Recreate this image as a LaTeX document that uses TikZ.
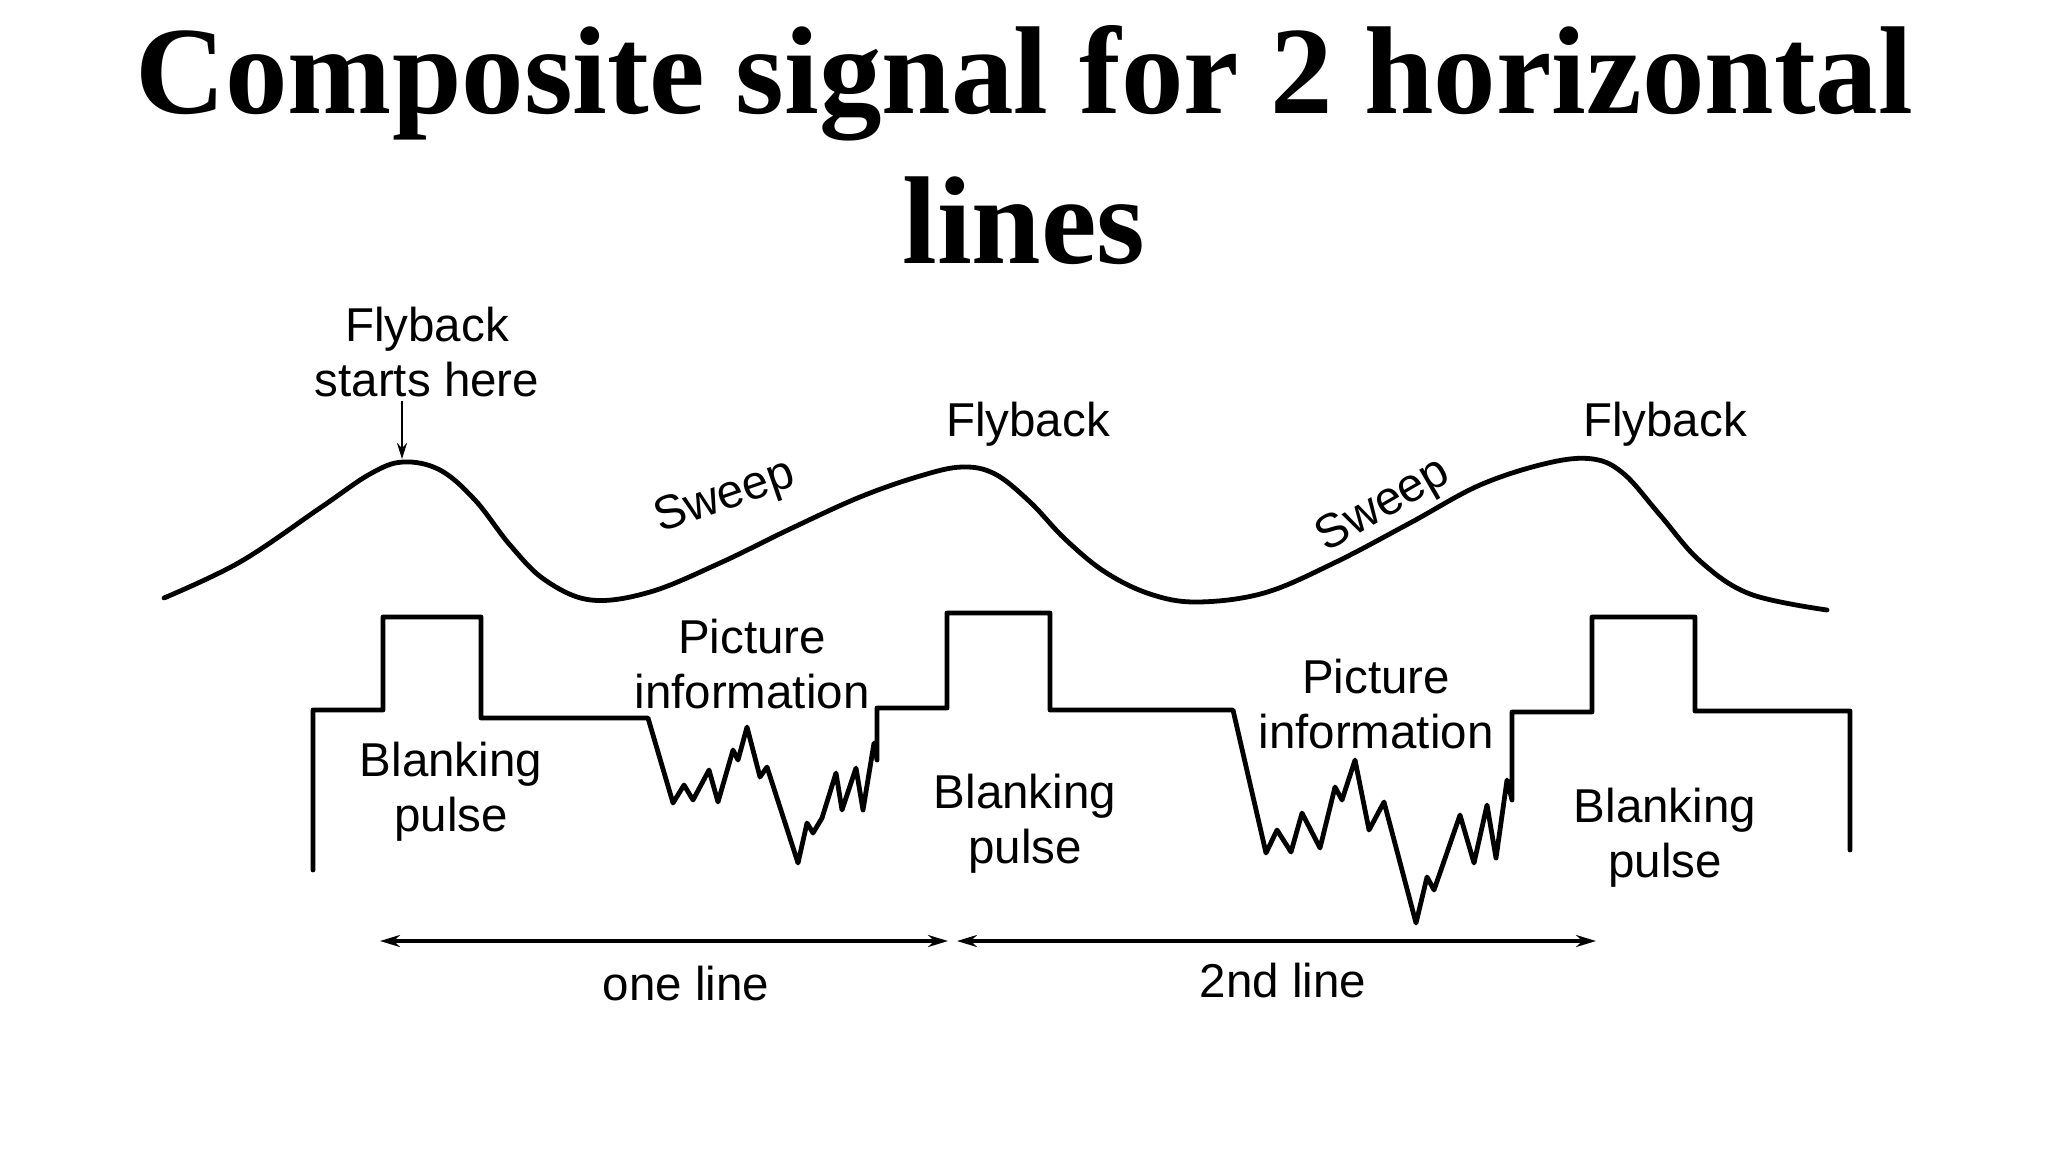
\documentclass[tikz,border=0pt]{standalone}
\usepackage{fontspec}
\setmainfont{Liberation Sans}
\newfontfamily\titlefont{Liberation Serif}
\usetikzlibrary{arrows.meta}
\begin{document}
\begin{tikzpicture}[x=0.5pt,y=-0.5pt,
  wave/.style={line width=2.4pt, line join=round, line cap=round},
  lbl/.style={font=\fontsize{23.75}{27.5}\selectfont, align=center, inner sep=0pt},
  dimarrow/.style={line width=1.6pt, {Stealth[length=10pt,width=6pt]}-{Stealth[length=10pt,width=6pt]}},
  pointer/.style={line width=1.4pt, -{Stealth[length=8pt,width=5pt]}}
  ]
\useasboundingbox (0,0) rectangle (2048,1152);

% title
\node[font=\titlefont\bfseries\fontsize{62.5}{75}\selectfont, align=center, anchor=base, inner sep=0pt] (title) at (1024,263) {Composite signal for 2 horizontal\\lines};

% sweep (deflection) waveform
\draw[wave] plot[smooth, tension=0.6] coordinates {
 (164,598) (240,562) (320,508) (370,474) (403,462) (440,470) (475,500) (510,545) (545,580) (591,600)
 (650,592) (720,563) (790,529) (860,497) (920,476) (962,467) (995,474) (1030,502) (1065,539) (1105,572)
 (1150,594) (1197,602) (1264,593) (1334,563) (1410,523) (1480,485) (1548,463) (1593,459) (1624,474)
 (1660,515) (1700,561) (1750,594) (1827,610)};

% composite video signal
\draw[wave] (313,870) -- (313,710) -- (383,710) -- (383,617) -- (481,617) -- (481,718) -- (648,718)
 -- (673,803) -- (684,785) -- (693,800) -- (709,770) -- (718,802) -- (733,750) -- (738,760) -- (747,727)
 -- (760,777) -- (767,767) -- (798,863) -- (807,823) -- (813,833) -- (822,818) -- (836,773) -- (842,810)
 -- (856,768) -- (863,810) -- (874,743) -- (877,760) -- (877,708)
 -- (947,708) -- (947,613) -- (1050,613) -- (1050,710) -- (1233,710)
 -- (1266,853) -- (1277,830) -- (1291,852) -- (1302,813) -- (1320,848) -- (1335,787) -- (1342,800)
 -- (1355,760) -- (1369,830) -- (1384,802) -- (1416,923) -- (1427,877) -- (1434,890) -- (1442,867)
 -- (1460,815) -- (1474,863) -- (1487,805) -- (1496,858) -- (1507,780) -- (1512,800) -- (1512,712)
 -- (1592,712) -- (1592,617) -- (1695,617) -- (1695,711) -- (1850,711) -- (1850,850);

% labels
\node[lbl] (fstart) at (427,352) {Flyback\\starts here};
\coordinate (fpeak) at (402,459);
\draw[pointer] (fstart.south -| fpeak) ++(0,4) -- (fpeak);

\node[lbl, anchor=base] (fly2) at (1028,436) {Flyback};
\node[lbl, anchor=base] (fly3) at (1665,436) {Flyback};
\node[lbl, rotate=19] (sweep1) at (725,498) {Sweep};
\node[lbl, rotate=30] (sweep2) at (1384,506) {Sweep};

\node[lbl] (pic1) at (752,664) {Picture\\information};
\node[lbl] (pic2) at (1376,704) {Picture\\information};
\node[lbl] (blank1) at (451,792) {Blanking\\pulse};
\node[lbl] (blank2) at (1025,824) {Blanking\\pulse};
\node[lbl] (blank3) at (1665,838) {Blanking\\pulse};

% line period arrows
\coordinate (l1a) at (380,941);
\coordinate (l1b) at (948,941);
\coordinate (l2a) at (957,941);
\coordinate (l2b) at (1596,941);
\draw[dimarrow] (l1a) -- (l1b);
\draw[dimarrow] (l2a) -- (l2b);
\node[lbl, anchor=base] (one) at (686,1000) {one line};
\node[lbl, anchor=base] (two) at (1283,997) {2nd line};
\end{tikzpicture}
\end{document}
